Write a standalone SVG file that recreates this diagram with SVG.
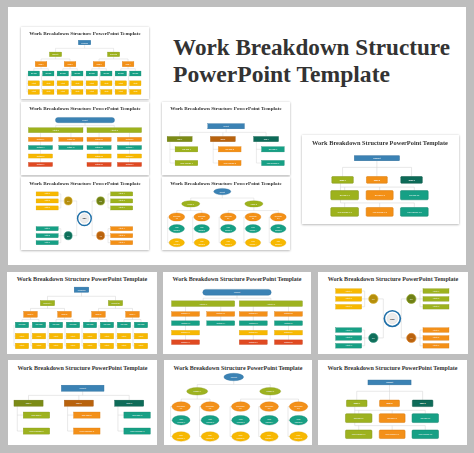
<svg xmlns="http://www.w3.org/2000/svg" xmlns:xlink="http://www.w3.org/1999/xlink" width="474" height="453" viewBox="0 0 474 453">
<style>
.card{fill:#fff}
.ln{stroke:#d3d3d3;stroke-width:1.5;fill:none}
.st{font-family:"Liberation Serif",serif;font-weight:bold;font-size:16px;fill:#333;text-anchor:middle}
.lb{font-family:"Liberation Sans",sans-serif;font-size:6px;fill:#fff;text-anchor:middle;dominant-baseline:central}
.sm{font-size:5px}
.bd{font-weight:bold}
.bl{fill:#3b82b4;stroke:#2c6c9a}
.ol{fill:#9db21f;stroke:#84961a}
.or{fill:#f39019;stroke:#d87a0e}
.te{fill:#17a085;stroke:#12846d}
.ye{fill:#f7b801;stroke:#dca300}
.rd{fill:#e04a22;stroke:#c23a16}
.dol{fill:#7b8b17;stroke:#66740f}
.dor{fill:#b8620d;stroke:#9a500a}
.dte{fill:#0e6b58;stroke:#0a5646}
.big{font-family:"Liberation Serif",serif;font-weight:bold;font-size:23px;fill:#333}
</style>
<defs>
<filter id="sh" x="-5%" y="-5%" width="110%" height="110%">
<feDropShadow dx="0" dy="0.6" stdDeviation="0.9" flood-color="#000" flood-opacity="0.35"/>
</filter>
<text id="ttl" class="st" x="225" y="28" textLength="392" lengthAdjust="spacingAndGlyphs">Work Breakdown Structure PowerPoint Template</text>

<g id="dA">
<rect class="card" width="450" height="250"/>
<use href="#ttl"/>
<path class="ln" d="M223.5 62V74M121.5 74H325.5M121.5 74V87M325.5 74V87M121.5 103V111M70.5 111H172.5M70.5 111V120M172.5 111V120M325.5 103V111M274.5 111H376.5M274.5 111V120M376.5 111V120M70.5 138V145M45 145H96M45 145V153M96 145V153M172.5 138V145M147 145H198M147 145V153M198 145V153M274.5 138V145M249 145H300M249 145V153M300 145V153M376.5 138V145M351 145H402M351 145V153M402 145V153M21 161.5V225.5H25M21 195.5H25M72 161.5V225.5H76M72 195.5H76M123 161.5V225.5H127M123 195.5H127M174 161.5V225.5H178M174 195.5H178M225 161.5V225.5H229M225 195.5H229M276 161.5V225.5H280M276 195.5H280M327 161.5V225.5H331M327 195.5H331M378 161.5V225.5H382M378 195.5H382"/>
<rect class="bl" x="201.5" y="46" width="44" height="16"/><text class="lb" x="223.5" y="54">Program</text>
<rect class="ol" x="100" y="87" width="43" height="16"/><text class="lb" x="121.5" y="95">Project A</text>
<rect class="ol" x="304" y="87" width="43" height="16"/><text class="lb" x="325.5" y="95">Project B</text>
<g class="or"><rect x="50" y="120" width="41" height="18"/><rect x="152" y="120" width="41" height="18"/><rect x="254" y="120" width="41" height="18"/><rect x="356" y="120" width="41" height="18"/></g>
<text class="lb" x="70.5" y="129">Task 1</text><text class="lb" x="172.5" y="129">Task 2</text><text class="lb" x="274.5" y="129">Task 3</text><text class="lb" x="376.5" y="129">Task 4</text>
<g class="te"><rect x="25" y="153" width="40" height="17"/><rect x="76" y="153" width="40" height="17"/><rect x="127" y="153" width="40" height="17"/><rect x="178" y="153" width="40" height="17"/><rect x="229" y="153" width="40" height="17"/><rect x="280" y="153" width="40" height="17"/><rect x="331" y="153" width="40" height="17"/><rect x="382" y="153" width="40" height="17"/></g>
<g class="ye"><rect x="25" y="187" width="40" height="17"/><rect x="76" y="187" width="40" height="17"/><rect x="127" y="187" width="40" height="17"/><rect x="178" y="187" width="40" height="17"/><rect x="229" y="187" width="40" height="17"/><rect x="280" y="187" width="40" height="17"/><rect x="331" y="187" width="40" height="17"/><rect x="382" y="187" width="40" height="17"/><rect x="25" y="217" width="40" height="17"/><rect x="76" y="217" width="40" height="17"/><rect x="127" y="217" width="40" height="17"/><rect x="178" y="217" width="40" height="17"/><rect x="229" y="217" width="40" height="17"/><rect x="280" y="217" width="40" height="17"/><rect x="331" y="217" width="40" height="17"/><rect x="382" y="217" width="40" height="17"/></g>
<g class="lb sm">
<text x="45" y="161.5">Sub Task</text><text x="96" y="161.5">Sub Task</text><text x="147" y="161.5">Sub Task</text><text x="198" y="161.5">Sub Task</text><text x="249" y="161.5">Sub Task</text><text x="300" y="161.5">Sub Task</text><text x="351" y="161.5">Sub Task</text><text x="402" y="161.5">Sub Task</text>
<text x="45" y="195.5">Activity</text><text x="96" y="195.5">Activity</text><text x="147" y="195.5">Activity</text><text x="198" y="195.5">Activity</text><text x="249" y="195.5">Activity</text><text x="300" y="195.5">Activity</text><text x="351" y="195.5">Activity</text><text x="402" y="195.5">Activity</text>
<text x="45" y="225.5">Activity</text><text x="96" y="225.5">Activity</text><text x="147" y="225.5">Activity</text><text x="198" y="225.5">Activity</text><text x="249" y="225.5">Activity</text><text x="300" y="225.5">Activity</text><text x="351" y="225.5">Activity</text><text x="402" y="225.5">Activity</text>
</g>
</g>

<g id="dB">
<rect class="card" width="450" height="250"/>
<use href="#ttl"/>
<path class="ln" d="M225 71V80M122 80H328M122 80V88M328 80V88M68.5 105V214M175.5 105V156M274.5 105V214M381.5 105V214"/>
<rect class="bl" x="121" y="53" width="208" height="18" rx="9"/><text class="lb" x="225" y="62">Project</text>
<rect class="ol" x="26" y="88" width="192" height="17"/><text class="lb" x="122" y="96.5">Activity 1</text>
<rect class="ol" x="232" y="88" width="192" height="17"/><text class="lb" x="328" y="96.5">Activity 2</text>
<g class="or"><rect x="26" y="121" width="85" height="14"/><rect x="133" y="121" width="85" height="14"/><rect x="232" y="121" width="85" height="14"/><rect x="339" y="121" width="85" height="14"/></g>
<g class="te"><rect x="26" y="149" width="85" height="14"/><rect x="133" y="149" width="85" height="14"/><rect x="232" y="149" width="85" height="14"/><rect x="339" y="149" width="85" height="14"/></g>
<g class="ye"><rect x="26" y="178" width="85" height="14"/><rect x="232" y="178" width="85" height="14"/><rect x="339" y="178" width="85" height="14"/></g>
<g class="rd"><rect x="26" y="207" width="85" height="14"/><rect x="232" y="207" width="85" height="14"/><rect x="339" y="207" width="85" height="14"/></g>
<g class="lb sm">
<text x="68.5" y="128">Subtask 1.1</text><text x="175.5" y="128">Subtask 1.2</text><text x="274.5" y="128">Subtask 2.1</text><text x="381.5" y="128">Subtask 2.2</text>
<text x="68.5" y="156">Subtask 1.3</text><text x="175.5" y="156">Subtask 1.4</text><text x="274.5" y="156">Subtask 2.3</text><text x="381.5" y="156">Subtask 2.4</text>
<text x="68.5" y="185">Subtask 1.5</text><text x="274.5" y="185">Subtask 2.5</text><text x="381.5" y="185">Subtask 2.6</text>
<text x="68.5" y="214">Subtask 1.6</text><text x="274.5" y="214">Subtask 2.7</text><text x="381.5" y="214">Subtask 2.8</text>
</g>
</g>

<g id="dC">
<rect class="card" width="450" height="250"/>
<use href="#ttl"/>
<path class="ln" d="M131 58H140V106H131M131 82H152M131 177H140V225H131M131 201H152M315 58H306V106H315M315 82H294M315 177H306V225H315M315 201H294M180 82H196V201H180M196 142H199M266 82H250V201H266M250 142H247"/>
<g class="ye"><rect x="53" y="51" width="78" height="14"/><rect x="53" y="75" width="78" height="14"/><rect x="53" y="99" width="78" height="14"/></g>
<g class="te"><rect x="53" y="170" width="78" height="14"/><rect x="53" y="194" width="78" height="14"/><rect x="53" y="218" width="78" height="14"/></g>
<g class="ol"><rect x="315" y="51" width="78" height="14"/><rect x="315" y="75" width="78" height="14"/><rect x="315" y="99" width="78" height="14"/></g>
<g class="or"><rect x="315" y="170" width="78" height="14"/><rect x="315" y="194" width="78" height="14"/><rect x="315" y="218" width="78" height="14"/></g>
<g class="lb sm">
<text x="92" y="58">Activity 1</text><text x="92" y="82">Activity 2</text><text x="92" y="106">Activity 3</text>
<text x="92" y="177">Activity 1</text><text x="92" y="201">Activity 2</text><text x="92" y="225">Activity 3</text>
<text x="354" y="58">Activity 1</text><text x="354" y="82">Activity 2</text><text x="354" y="106">Activity 3</text>
<text x="354" y="177">Activity 1</text><text x="354" y="201">Activity 2</text><text x="354" y="225">Activity 3</text>
</g>
<circle cx="166" cy="82" r="14" fill="#b58e0b" stroke="#dcb83e" stroke-width="2"/><text class="lb" x="166" y="82">1.1</text>
<circle cx="280" cy="82" r="14" fill="#6f8016" stroke="#9aac30" stroke-width="2"/><text class="lb" x="280" y="82">2.1</text>
<circle cx="166" cy="201" r="14" fill="#0f6e5a" stroke="#3a9a84" stroke-width="2"/><text class="lb" x="166" y="201">3.1</text>
<circle cx="280" cy="201" r="14" fill="#b9630f" stroke="#e08a30" stroke-width="2"/><text class="lb" x="280" y="201">4.1</text>
<circle cx="223" cy="142" r="24" fill="#fff" stroke="#1f6fa8" stroke-width="5"/>
<circle cx="223" cy="142" r="16" fill="#ececec" stroke="#d0d0d0"/>
<text class="lb bd" x="223" y="142" style="fill:#333">WBS</text>
</g>

<g id="dD">
<rect class="card" width="450" height="250"/>
<use href="#ttl"/>
<path class="ln" d="M225.5 92V104M62 104H366M62 104V118M214 104V118M366 104V118M28 136V209H46M28 162H46M180 136V209H198M180 162H198M332 136V209H350M332 162H350"/>
<rect class="bl" x="161" y="74" width="129" height="18"/><text class="lb" x="225.5" y="83">Project</text>
<rect class="dol" x="18" y="118" width="88" height="18"/><text class="lb" x="62" y="127">Task 1</text>
<rect class="dor" x="170" y="118" width="88" height="18"/><text class="lb" x="214" y="127">Task 2</text>
<rect class="dte" x="322" y="118" width="88" height="18"/><text class="lb" x="366" y="127">Task 3</text>
<rect class="ol" x="46" y="153" width="80" height="18"/><text class="lb" x="86" y="162">Sub Task 1</text>
<rect class="or" x="198" y="153" width="80" height="18"/><text class="lb" x="238" y="162">Sub Task 2</text>
<rect class="te" x="350" y="153" width="80" height="18"/><text class="lb" x="390" y="162">Sub Task 3</text>
<rect class="ol" x="46" y="200" width="80" height="18"/><text class="lb" x="86" y="209">Work Package 1</text>
<rect class="or" x="198" y="200" width="80" height="18"/><text class="lb" x="238" y="209">Work Package 2</text>
<rect class="te" x="350" y="200" width="80" height="18"/><text class="lb" x="390" y="209">Work Package 3</text>
</g>

<g id="dE">
<rect class="card" width="450" height="250"/>
<use href="#ttl"/>
<path class="ln" d="M212 61V72M101 72H323M101 72V81M323 72V81M101 103V115M52 115H140M52 115V123M140 115V123M323 103V115M233 115H409M233 115V123M409 115V123M24 137H20V225H25M20 177H25M112 137H108V225H113M108 177H113M205 137H201V225H206M201 177H206M292 137H288V225H293M288 177H293M381 137H377V225H382M377 177H382"/>
<ellipse class="bl" cx="212" cy="50" rx="30" ry="11"/><text class="lb" x="212" y="50">Project</text>
<ellipse class="ol" cx="101" cy="92" rx="32" ry="11"/><text class="lb" x="101" y="92">Phase 1</text>
<ellipse class="ol" cx="323" cy="92" rx="32" ry="11"/><text class="lb" x="323" y="92">Phase 2</text>
<g class="or"><ellipse cx="52" cy="137" rx="28" ry="14"/><ellipse cx="140" cy="137" rx="28" ry="14"/><ellipse cx="233" cy="137" rx="28" ry="14"/><ellipse cx="320" cy="137" rx="28" ry="14"/><ellipse cx="409" cy="137" rx="28" ry="14"/></g>
<g class="te"><ellipse cx="52" cy="177" rx="27" ry="14"/><ellipse cx="140" cy="177" rx="27" ry="14"/><ellipse cx="233" cy="177" rx="27" ry="14"/><ellipse cx="320" cy="177" rx="27" ry="14"/><ellipse cx="409" cy="177" rx="27" ry="14"/></g>
<g class="ye"><ellipse cx="52" cy="225" rx="27" ry="14"/><ellipse cx="140" cy="225" rx="27" ry="14"/><ellipse cx="233" cy="225" rx="27" ry="14"/><ellipse cx="320" cy="225" rx="27" ry="14"/><ellipse cx="409" cy="225" rx="27" ry="14"/></g>
<g class="lb sm">
<text x="52" y="134">Deliverable<tspan x="52" y="141">1.1</tspan></text>
<text x="140" y="134">Deliverable<tspan x="140" y="141">1.2</tspan></text>
<text x="233" y="134">Deliverable<tspan x="233" y="141">2.1</tspan></text>
<text x="320" y="134">Deliverable<tspan x="320" y="141">2.2</tspan></text>
<text x="409" y="134">Deliverable<tspan x="409" y="141">2.3</tspan></text>
<text x="52" y="174">Work<tspan x="52" y="181">package 1</tspan></text>
<text x="140" y="174">Work<tspan x="140" y="181">package 2</tspan></text>
<text x="233" y="174">Work<tspan x="233" y="181">package 3</tspan></text>
<text x="320" y="174">Work<tspan x="320" y="181">package 4</tspan></text>
<text x="409" y="174">Work<tspan x="409" y="181">package 5</tspan></text>
<text x="52" y="222">Work<tspan x="52" y="229">package 1</tspan></text>
<text x="140" y="222">Work<tspan x="140" y="229">package 2</tspan></text>
<text x="233" y="222">Work<tspan x="233" y="229">package 3</tspan></text>
<text x="320" y="222">Work<tspan x="320" y="229">package 4</tspan></text>
<text x="409" y="222">Work<tspan x="409" y="229">package 5</tspan></text>
</g>
</g>

<g id="dF">
<rect class="card" width="450" height="250"/>
<use href="#ttl"/>
<path class="ln" d="M216 73V92M117 92H316M117 92V118M216 92V118M316 92V118M111 137V193M111 148H324M123 148V158M224 148V158M324 148V158M111 193H324M123 193V206M224 193V206M324 193V206"/>
<rect class="bl" x="151" y="59" width="130" height="14" stroke-width="1.5"/><text class="lb bd" x="216" y="66">Project</text>
<rect class="ol" x="86" y="118" width="62" height="19" rx="2" stroke-width="1.5"/><text class="lb bd" x="117" y="127.5">Task 1</text>
<rect class="or" x="186" y="118" width="60" height="19" rx="2" stroke-width="1.5"/><text class="lb bd" x="216" y="127.5">Task 2</text>
<rect class="dte" x="285" y="118" width="62" height="19" rx="2" stroke-width="1.5"/><text class="lb bd" x="316" y="127.5">Task 3</text>
<rect class="ol" x="83" y="158" width="80" height="26" rx="3" stroke-width="1.5"/><text class="lb sm" x="123" y="171">Sub Task 1.1</text>
<rect class="or" x="185" y="158" width="78" height="26" rx="3" stroke-width="1.5"/><text class="lb sm" x="224" y="171">Sub Task 1.2</text>
<rect class="te" x="284" y="158" width="80" height="26" rx="3" stroke-width="1.5"/><text class="lb sm" x="324" y="171">Sub Task 1.3</text>
<rect class="ol" x="83" y="206" width="80" height="25" rx="3" stroke-width="1.5"/><text class="lb sm" x="123" y="218.5">Work Package 1.1</text>
<rect class="or" x="185" y="206" width="78" height="25" rx="3" stroke-width="1.5"/><text class="lb sm" x="224" y="218.5">Work Package 1.2</text>
<rect class="te" x="284" y="206" width="80" height="25" rx="3" stroke-width="1.5"/><text class="lb sm" x="324" y="218.5">Work Package 1.3</text>
</g>
</defs>

<rect width="474" height="453" fill="#bebebe"/>
<rect x="8" y="7" width="458" height="258" fill="#fff"/>

<g id="heading">
<text class="big" x="173" y="55" textLength="277" lengthAdjust="spacingAndGlyphs">Work Breakdown Structure</text>
<text class="big" x="173" y="82" textLength="217" lengthAdjust="spacingAndGlyphs">PowerPoint Template</text>
</g>

<g id="top-slides" filter="url(#sh)">
<use id="s1" href="#dA" transform="translate(21,27) scale(0.2844,0.288)"/>
<use id="s2" href="#dB" transform="translate(21,102) scale(0.2844,0.292)"/>
<use id="s3" href="#dC" transform="translate(21,177) scale(0.2844,0.292)"/>
<use id="s4" href="#dD" transform="translate(162,102) scale(0.2844,0.292)"/>
<use id="s5" href="#dE" transform="translate(162,177) scale(0.2844,0.292)"/>
<use id="s6" href="#dF" transform="translate(302,135) scale(0.3467,0.352)"/>
</g>

<g id="bottom-slides">
<use id="b1" href="#dA" transform="translate(7,272) scale(0.3333,0.328)"/>
<use id="b2" href="#dB" transform="translate(163,272) scale(0.3289,0.328)"/>
<use id="b3" href="#dC" transform="translate(318,272) scale(0.3333,0.328)"/>
<use id="b4" href="#dD" transform="translate(8,360) scale(0.3311,0.34)"/>
<use id="b5" href="#dE" transform="translate(164,360) scale(0.3289,0.34)"/>
<use id="b6" href="#dF" transform="translate(318,360) scale(0.3311,0.34)"/>
</g>
</svg>
